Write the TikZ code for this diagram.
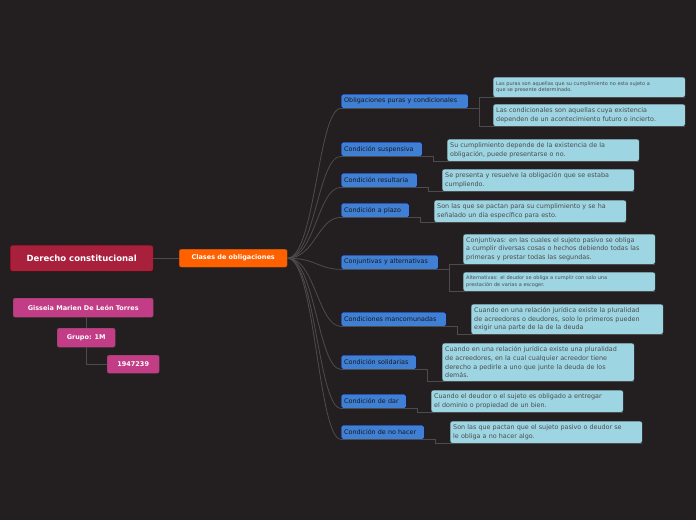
\documentclass[tikz,border=0pt]{standalone}
\usepackage{fontspec}
\setmainfont{DejaVu Sans}
\begin{document}
\begin{tikzpicture}[x=1pt,y=-1pt,
  con/.style={draw=gray!60!black,line width=0.8pt},
  bluebox/.style={draw=blue!40!black,rounded corners=1.5pt,inner ysep=0pt,inner xsep=3pt,anchor=north west,font=\fontsize{6.4}{7}\selectfont,text=black!90,align=left},
  leaf/.style={draw=gray!40!black,rounded corners=2pt,anchor=north west,align=left,inner sep=0pt,text=black!70,font=\fontsize{6.4}{8.6}\selectfont},
  leafs/.style={leaf,font=\fontsize{5}{6.8}\selectfont},
  pink/.style={fill=pk,draw=magenta!40!black,rounded corners=2pt,text=white,font=\bfseries\fontsize{6.5}{7}\selectfont,inner sep=0pt,anchor=north west}]
\definecolor{bg}{HTML}{231F20}
\definecolor{bl}{HTML}{3F7FD4}
\definecolor{lb}{HTML}{9DD5E2}
\definecolor{pk}{HTML}{C23C86}
\definecolor{rd}{HTML}{A8203C}
\fill[bg] (0,0) rectangle (696,520);
\useasboundingbox (0,0) rectangle (696,520);
\tikzset{bluebox/.append style={fill=bl},leaf/.append style={fill=lb}}
% main
\node[draw=red!40!black,fill=rd,rounded corners=2pt,text=white,font=\bfseries\fontsize{8.5}{9}\selectfont,minimum width=143,minimum height=26,anchor=north west,inner sep=0pt] (root) at (10,245) {Derecho constitucional};
\node[draw=orange!50!black,fill=orange!75!red,rounded corners=2pt,text=white,font=\bfseries\fontsize{6.5}{7}\selectfont,minimum width=108,minimum height=18,anchor=north west,inner sep=0pt] (cl) at (179,249) {Clases de obligaciones};
\draw[con] (root.east) -- (cl.west);
\node[pink,minimum width=140,minimum height=19] (gi) at (13,298) {Gisseia Marien De León Torres};
\node[pink,minimum width=58,minimum height=19] (gr) at (57,328) {Grupo: 1M};
\node[pink,minimum width=52,minimum height=18] (nu) at (107,355) {1947239};
\draw[con] (gi.south -| gr.north) -- (gr.north);
\draw[con] (gr.south) |- (nu.west);
% blue nodes
\foreach \n/\y/\w/\t in {
 b1/94/127/Obligaciones puras y condicionales,
 b2/142/81/Condición suspensiva,
 b3/173/76/Condición resultaria,
 b4/203/68/Condición a plazo,
 b5/255/97/Conjuntivas y alternativas,
 b6/312/105/Condiciones mancomunadas,
 b7/355/75/Condición solidarias,
 b8/394/65/Condición de dar,
 b9/425/83/Condición de no hacer}{
 \node[bluebox,text width=\w-6,minimum height=14] (\n) at (341,\y) {\t};
 \draw[con] (cl.east) .. controls (315,258) and (318,\y+14) .. (\n.south west) -- (\n.south east);
}
% leaves
\node[leafs,minimum width=192,minimum height=20,text width=186,inner xsep=3] (l1) at (493,77) {Las puras son aquellas que su cumplimiento no esta sujeto a\\que se presente determinado.};
\node[leaf,minimum width=192,minimum height=22,text width=186,inner xsep=3] (l2) at (493,104) {Las condicionales son aquellas cuya existencia\\dependen de un acontecimiento futuro o incierto.};
\node[leaf,minimum width=192,minimum height=22,text width=186,inner xsep=3] (l3) at (447,139) {Su cumplimiento depende de la existencia de la\\obligación, puede presentarse o no.};
\node[leaf,minimum width=192,minimum height=22,text width=186,inner xsep=3] (l4) at (442,169) {Se presenta y resuelve la obligación que se estaba\\cumpliendo.};
\node[leaf,minimum width=192,minimum height=22,text width=186,inner xsep=3] (l5) at (434,200) {Son las que se pactan para su cumplimiento y se ha\\señalado un día específico para esto.};
\node[leaf,minimum width=192,minimum height=30,text width=186,inner xsep=3] (l6) at (463,234) {Conjuntivas: en las cuales el sujeto pasivo se obliga\\a cumplir diversas cosas o hechos debiendo todas las\\primeras y prestar todas las segundas.};
\node[leafs,minimum width=192,minimum height=19,text width=186,inner xsep=3] (l7) at (463,272) {Alternativas: el deudor se obliga a cumplir con solo una\\prestación de varias a escoger.};
\node[leaf,minimum width=192,minimum height=30,text width=186,inner xsep=3] (l8) at (471,304) {Cuando en una relación jurídica existe la pluralidad\\de acreedores o deudores, solo lo primeros pueden\\exigir una parte de la de la deuda};
\node[leaf,minimum width=192,minimum height=38,text width=186,inner xsep=3] (l9) at (442,343) {Cuando en una relación jurídica existe una pluralidad\\de acreedores, en la cual cualquier acreedor tiene\\derecho a pedirle a uno que junte la deuda de los\\demás.};
\node[leaf,minimum width=192,minimum height=22,text width=186,inner xsep=3] (l10) at (431,390) {Cuando el deudor o el sujeto es obligado a entregar\\el dominio o propiedad de un bien.};
\node[leaf,minimum width=192,minimum height=22,text width=186,inner xsep=3] (l11) at (450,421) {Son las que pactan que el sujeto pasivo o deudor se\\le obliga a no hacer algo.};
\foreach \b/\l/\d in {b1/l1/11,b1/l2/11,b2/l3/11,b3/l4/11,b4/l5/11,b5/l6/11,b5/l7/11,b6/l8/11,b7/l9/11,b8/l10/11,b9/l11/11}{
 \draw[con] (\b.south east) -- ++(\d,0) |- (\l.south west) -- (\l.south east);
}
\end{tikzpicture}
\end{document}
